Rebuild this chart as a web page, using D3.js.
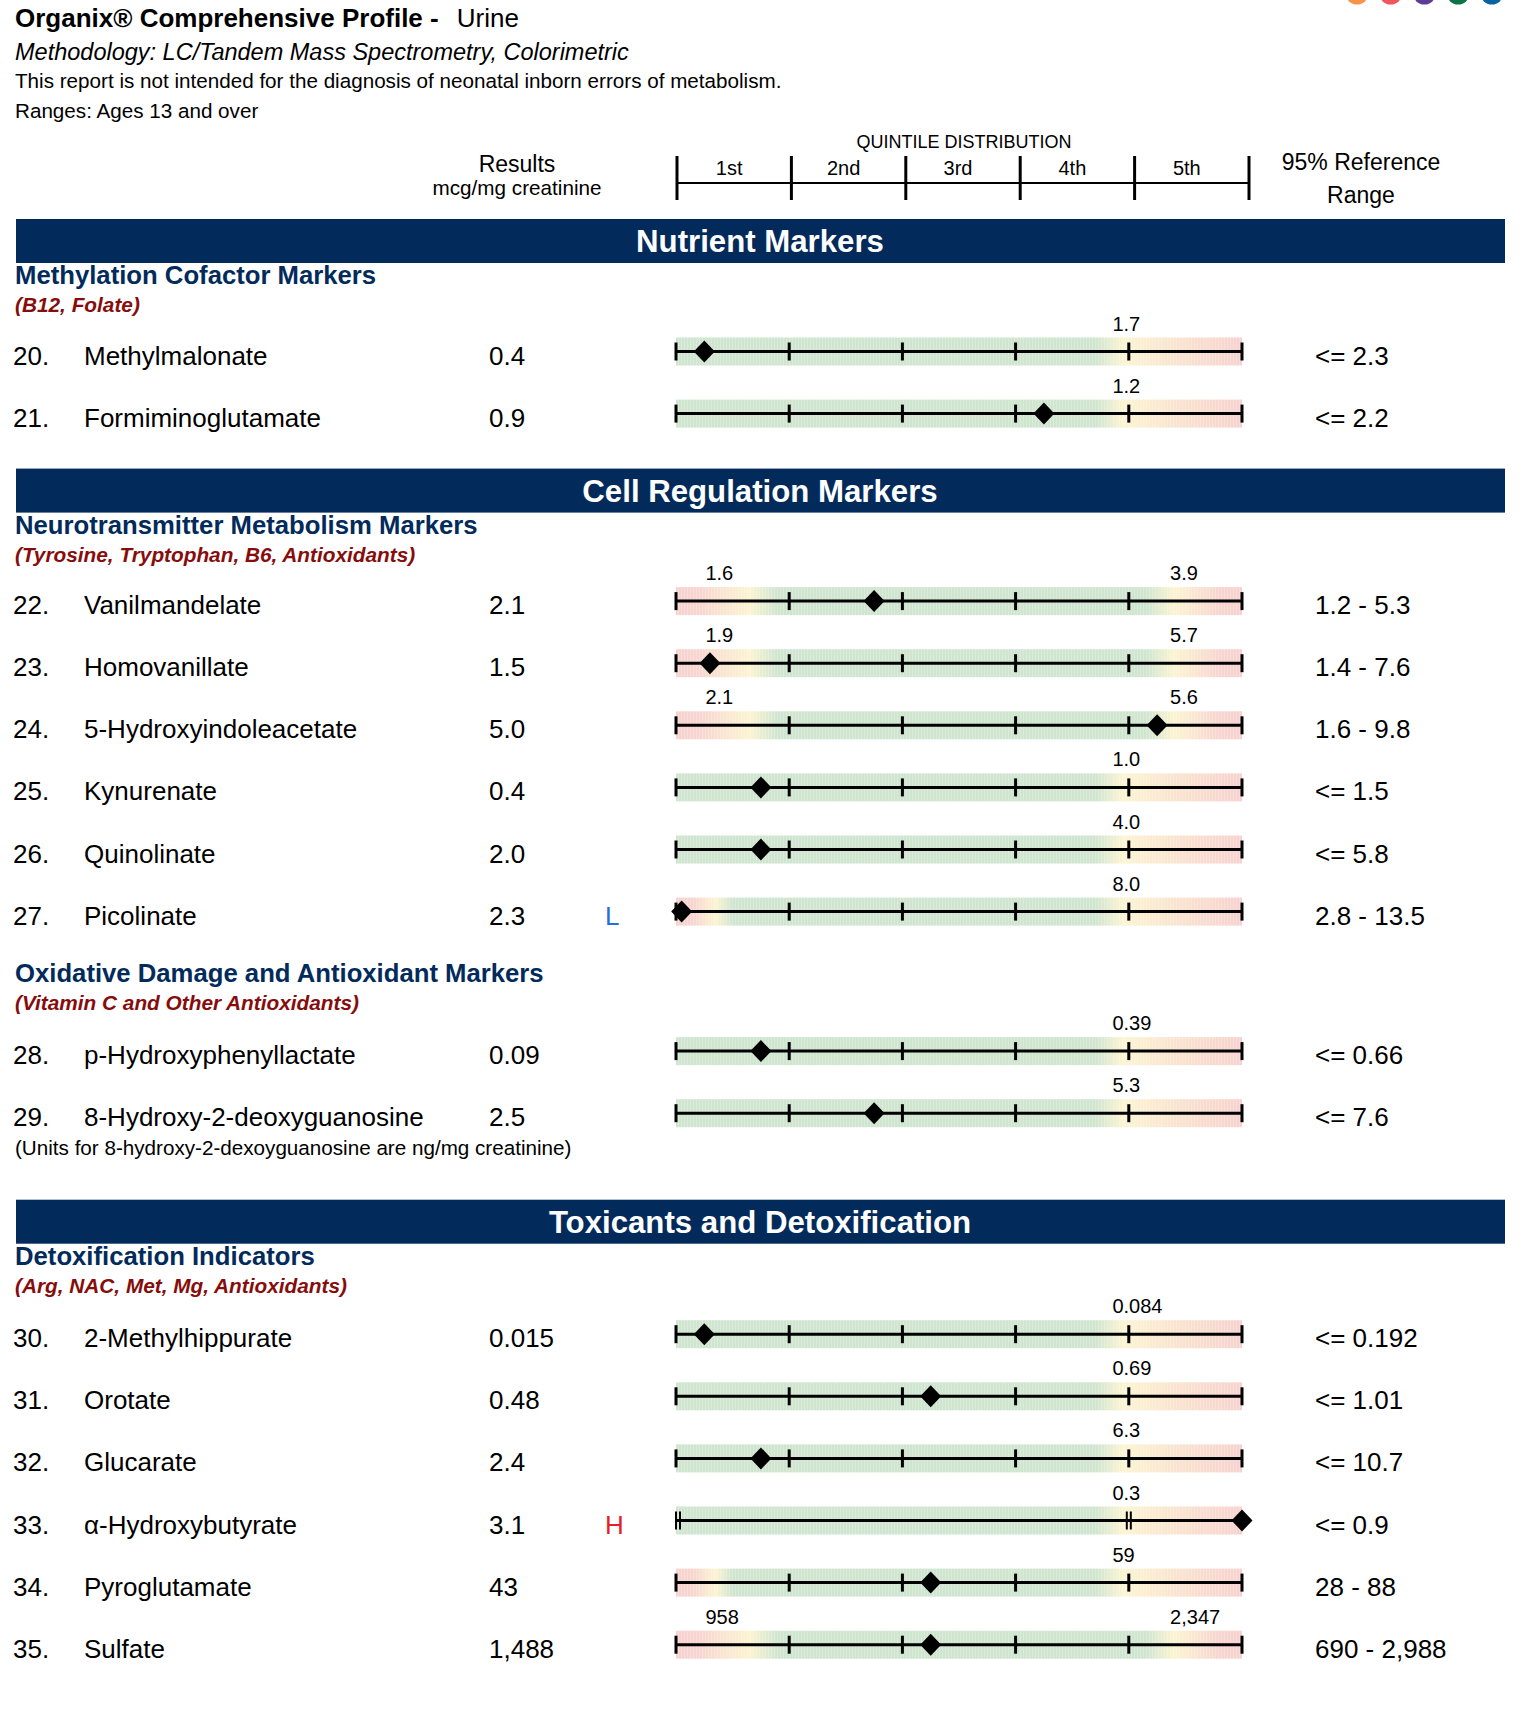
<!DOCTYPE html>
<html>
<head>
<meta charset="utf-8">
<script src="https://cdn.jsdelivr.net/npm/d3@7"></script>
<style>
  body { margin: 0; background: #fff; }
  svg { display: block; font-family: "Liberation Sans", Arial, sans-serif; }
</style>
</head>
<body>
<div id="chart"></div>
<script>
// ---- data ----
const rowNumbers = [20, 21, 22, 23, 24, 25, 26, 27, 28, 29, 30, 31, 32, 33, 34, 35];
const analytes = [
    "Methylmalonate", "Formiminoglutamate",
    "Vanilmandelate", "Homovanillate", "5-Hydroxyindoleacetate", "Kynurenate", "Quinolinate", "Picolinate",
    "p-Hydroxyphenyllactate", "8-Hydroxy-2-deoxyguanosine",
    "2-Methylhippurate", "Orotate", "Glucarate", "α-Hydroxybutyrate", "Pyroglutamate", "Sulfate"
];
const results = ["0.4", "0.9", "2.1", "1.5", "5.0", "0.4", "2.0", "2.3", "0.09", "2.5", "0.015", "0.48", "2.4", "3.1", "43", "1,488"];
const flags = ["", "", "", "", "", "", "", "L", "", "", "", "", "", "H", "", ""];
// marker position along the quintile bar (percentile)
const percentiles = [5, 65, 35, 6, 85, 15, 15, 1, 15, 35, 5, 45, 15, 100, 45, 45];
const cutoffLabels = [
    ["1.7"], ["1.2"],
    ["1.6", "3.9"], ["1.9", "5.7"], ["2.1", "5.6"], ["1.0"], ["4.0"], ["8.0"],
    ["0.39"], ["5.3"],
    ["0.084"], ["0.69"], ["6.3"], ["0.3"], ["59"], ["958", "2,347"]
];
const referenceRanges = [
    "<= 2.3", "<= 2.2",
    "1.2 - 5.3", "1.4 - 7.6", "1.6 - 9.8", "<= 1.5", "<= 5.8", "2.8 - 13.5",
    "<= 0.66", "<= 7.6",
    "<= 0.192", "<= 1.01", "<= 10.7", "<= 0.9", "28 - 88", "690 - 2,988"
];
// upper = only high is out of range, range = both ends, lowUpper = narrow low end
const rangeTypes = [
    "upper", "upper",
    "range", "range", "range", "upper", "upper", "lowUpper",
    "upper", "upper",
    "upper", "upper", "upper", "upper", "lowUpper", "range"
];
const offScale = [false, false, false, false, false, false, false, false, false, false, false, false, false, true, false, false];
const quintileLabels = ["1st", "2nd", "3rd", "4th", "5th"];
const sectionTitles = ["Nutrient Markers", "Cell Regulation Markers", "Toxicants and Detoxification"];
const groupTitles = ["Methylation Cofactor Markers", "Neurotransmitter Metabolism Markers", "Oxidative Damage and Antioxidant Markers", "Detoxification Indicators"];
const groupNotes = ["(B12, Folate)", "(Tyrosine, Tryptophan, B6, Antioxidants)", "(Vitamin C and Other Antioxidants)", "(Arg, NAC, Met, Mg, Antioxidants)"];
const groupSizes = [2, 6, 2, 6];
const groupSection = [0, 1, 1, 2];
const groupFootnotes = ["", "", "(Units for 8-hydroxy-2-dexoyguanosine are ng/mg creatinine)", ""];
const logoColors = ["#f7944a", "#f0565d", "#5d3c97", "#0c7247", "#0b62a0"];

// ---- drawing ----
const width = 1530, height = 1716;
const navy = "#022b5c", darkRed = "#870d0d";

const svg = d3.select("#chart").append("svg")
    .attr("width", width)
    .attr("height", height)
    .attr("viewBox", [0, 0, width, height]);

const defs = svg.append("defs");
const gradStops = {
    upper: [[0, "#cfe5d0"], [74, "#cfe5d0"], [79, "#fcf4d2"], [90, "#f9e1cf"], [100, "#f7d2cf"]],
    range: [[0, "#f7d2cf"], [4, "#f7d5d0"], [13, "#fcf4d2"], [18, "#cfe5d0"], [83, "#cfe5d0"], [88, "#fcf4d2"], [96, "#f7d5d0"], [100, "#f7d2cf"]],
    lowUpper: [[0, "#f7d2cf"], [3, "#f7d5d0"], [7, "#fcf4d2"], [10, "#cfe5d0"], [74, "#cfe5d0"], [79, "#fcf4d2"], [90, "#f9e1cf"], [100, "#f7d2cf"]]
};
Object.entries(gradStops).forEach(([key, stops]) => {
    defs.append("linearGradient")
        .attr("id", "band-" + key)
        .selectAll("stop")
        .data(stops)
        .join("stop")
        .attr("offset", d => d[0] + "%")
        .attr("stop-color", d => d[1]);
});
// faint vertical striping of the bands
const pat = defs.append("pattern")
    .attr("id", "stripes")
    .attr("patternUnits", "userSpaceOnUse")
    .attr("width", 3).attr("height", 10);
pat.append("rect").attr("x", 0).attr("width", 1).attr("height", 10)
    .attr("fill", "#fff").attr("opacity", 0.22);

// logo dots, cut by the top edge
svg.append("g")
    .selectAll("circle")
    .data(logoColors)
    .join("circle")
    .attr("cx", (d, i) => 1357 + i * 33.7)
    .attr("cy", -7)
    .attr("r", 11.5)
    .attr("fill", d => d);

// title block
const title = svg.append("text").attr("x", 15).attr("y", 27).style("font-size", "26px");
title.append("tspan").attr("font-weight", "bold").text("Organix® Comprehensive Profile -");
title.append("tspan").attr("dx", 18).text("Urine");
svg.append("text").attr("x", 15).attr("y", 60).style("font-size", "23.5px").style("font-style", "italic")
    .text("Methodology: LC/Tandem Mass Spectrometry, Colorimetric");
svg.append("text").attr("x", 15).attr("y", 88).style("font-size", "20.65px")
    .text("This report is not intended for the diagnosis of neonatal inborn errors of metabolism.");
svg.append("text").attr("x", 15).attr("y", 118).style("font-size", "20.65px")
    .text("Ranges: Ages 13 and over");

// column header
const hx = d3.scaleLinear().domain([0, 5]).range([677, 1249]);
const head = svg.append("g");
head.append("text").attr("x", 964).attr("y", 148).attr("text-anchor", "middle").style("font-size", "18px")
    .text("QUINTILE DISTRIBUTION");
head.append("line").attr("x1", hx(0)).attr("x2", hx(5)).attr("y1", 183).attr("y2", 183)
    .attr("stroke", "#000").attr("stroke-width", 2);
head.selectAll(".qline")
    .data(d3.range(6))
    .join("line")
    .attr("x1", d => hx(d)).attr("x2", d => hx(d))
    .attr("y1", 156).attr("y2", 200)
    .attr("stroke", "#000").attr("stroke-width", 3);
head.selectAll(".qlab")
    .data(quintileLabels)
    .join("text")
    .attr("x", (d, i) => hx(i + 0.5) - 5)
    .attr("y", 175)
    .attr("text-anchor", "middle")
    .style("font-size", "20px")
    .text(d => d);
head.append("text").attr("x", 517).attr("y", 172).attr("text-anchor", "middle").style("font-size", "23px").text("Results");
head.append("text").attr("x", 517).attr("y", 195).attr("text-anchor", "middle").style("font-size", "20.7px").text("mcg/mg creatinine");
head.append("text").attr("x", 1361).attr("y", 170).attr("text-anchor", "middle").style("font-size", "23px").text("95% Reference");
head.append("text").attr("x", 1361).attr("y", 203).attr("text-anchor", "middle").style("font-size", "23px").text("Range");

// bar scale
const x = d3.scaleLinear().domain([0, 100]).range([676, 1242]);
const pitch = 62.1;

function sectionBar(top, label) {
    svg.append("rect").attr("x", 16).attr("y", top).attr("width", 1489).attr("height", 44).attr("fill", navy);
    svg.append("text").attr("x", 760).attr("y", top + 33).attr("text-anchor", "middle")
        .attr("fill", "#fff").attr("font-weight", "bold").style("font-size", "31.2px").text(label);
}

function drawRow(i, y) {
    const g = svg.append("g");
    g.append("text").attr("x", 13).attr("y", y + 13).style("font-size", "26px").text(rowNumbers[i] + ".");
    g.append("text").attr("x", 84).attr("y", y + 13).style("font-size", "26px").text(analytes[i]);
    g.append("text").attr("x", 489).attr("y", y + 13).style("font-size", "26px").text(results[i]);
    if (flags[i]) {
        g.append("text").attr("x", 605).attr("y", y + 13).style("font-size", "26px")
            .attr("fill", flags[i] === "L" ? "#1f6fe0" : "#e5202a").text(flags[i]);
    }
    g.append("text").attr("x", 1315).attr("y", y + 13).style("font-size", "26px").text(referenceRanges[i]);

    // band
    g.append("rect").attr("x", x(0)).attr("y", y - 14).attr("width", x(100) - x(0)).attr("height", 28)
        .attr("fill", `url(#band-${rangeTypes[i]})`);
    g.append("rect").attr("x", x(0)).attr("y", y - 14).attr("width", x(100) - x(0)).attr("height", 28)
        .attr("fill", "url(#stripes)");

    // cutoff labels, left anchored
    const labs = cutoffLabels[i];
    const anchors = labs.length === 2 ? [5.2, 87.3] : [77.1];
    g.selectAll(".cut")
        .data(labs)
        .join("text")
        .attr("x", (d, k) => x(anchors[k]))
        .attr("y", y - 21)
        .style("font-size", "20px")
        .text(d => d);

    // axis line and ticks
    g.append("line").attr("x1", x(0)).attr("x2", x(100)).attr("y1", y).attr("y2", y)
        .attr("stroke", "#000").attr("stroke-width", 3);
    const ticks = offScale[i]
        ? [x(0), x(0) + 4, x(80) - 2, x(80) + 2]
        : d3.range(0, 101, 20).map(x);
    g.selectAll(".tick")
        .data(ticks)
        .join("line")
        .attr("x1", d => d).attr("x2", d => d)
        .attr("y1", y - 9).attr("y2", y + 9)
        .attr("stroke", "#000").attr("stroke-width", offScale[i] ? 2 : 3);

    // marker
    const mx = x(percentiles[i]);
    g.append("path")
        .attr("d", `M${mx},${y - 11}L${mx + 10.5},${y}L${mx},${y + 11}L${mx - 10.5},${y}Z`)
        .attr("fill", "#000");
}

// layout, group by group
let idx = 0;
let y = 219;
let lastRow = 0;
groupTitles.forEach((gt, gi) => {
    let subBase;
    if (gi === 0 || groupSection[gi] !== groupSection[gi - 1]) {
        sectionBar(y, sectionTitles[groupSection[gi]]);
        subBase = y + 65;
    } else {
        subBase = lastRow + 70;
    }
    svg.append("text").attr("x", 15).attr("y", subBase).attr("fill", navy)
        .attr("font-weight", "bold").style("font-size", "25.7px").text(gt);
    svg.append("text").attr("x", 15).attr("y", subBase + 28).attr("fill", darkRed)
        .attr("font-weight", "bold").style("font-style", "italic").style("font-size", "20.8px").text(groupNotes[gi]);
    let rowY = subBase + 28 + (gi === 0 || gi === 1 ? 39.5 : 41.5);
    for (let k = 0; k < groupSizes[gi]; k++) {
        drawRow(idx, rowY);
        lastRow = rowY;
        rowY += pitch;
        idx++;
    }
    if (groupFootnotes[gi]) {
        svg.append("text").attr("x", 15).attr("y", lastRow + 41.5).style("font-size", "20.65px").text(groupFootnotes[gi]);
        y = lastRow + 86.5;
    } else {
        y = lastRow + 55;
    }
});
</script>
</body>
</html>
